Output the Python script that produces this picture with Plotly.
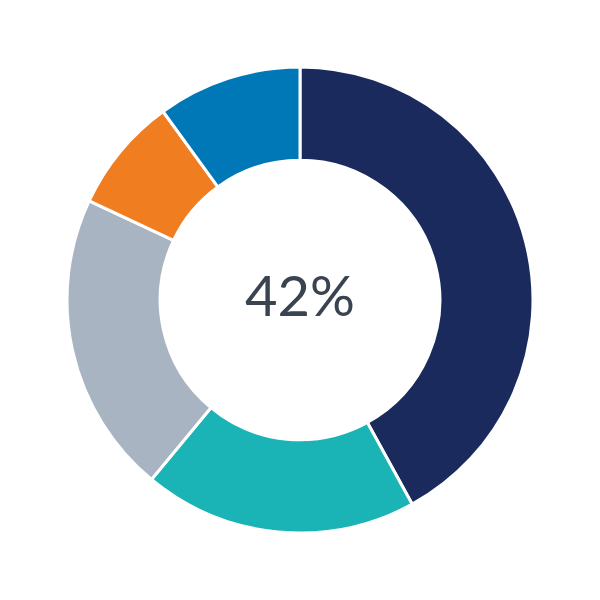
import plotly.graph_objects as go

# Valores del donut (sentido horario desde arriba)
labels = ["A", "B", "C", "D", "E"]
values = [42, 19, 21, 8, 10]
colors = ["#1b2a5c", "#1bb4b6", "#a8b4c2", "#f17d21", "#0077b6"]
center_text = "42%"

fig = go.Figure(data=[go.Pie(
    labels=labels,
    values=values,
    hole=0.6,
    sort=False,
    direction="clockwise",
    rotation=0,
    marker=dict(colors=colors, line=dict(color="white", width=3)),
    textinfo="none",
    hoverinfo="label+percent",
)])

# margen asimétrico para compensar el margen de 8px del body
fig.update_layout(
    width=600,
    height=600,
    margin=dict(l=59, r=75, t=59, b=75),
    paper_bgcolor="white",
    showlegend=False,
    annotations=[dict(
        text=center_text, x=0.5, y=0.5, xref="paper", yref="paper", yshift=6,
        showarrow=False, font=dict(family="Lato, Open Sans", size=56, color="#3a4350"),
    )],
)

fig.write_html("out.html")
